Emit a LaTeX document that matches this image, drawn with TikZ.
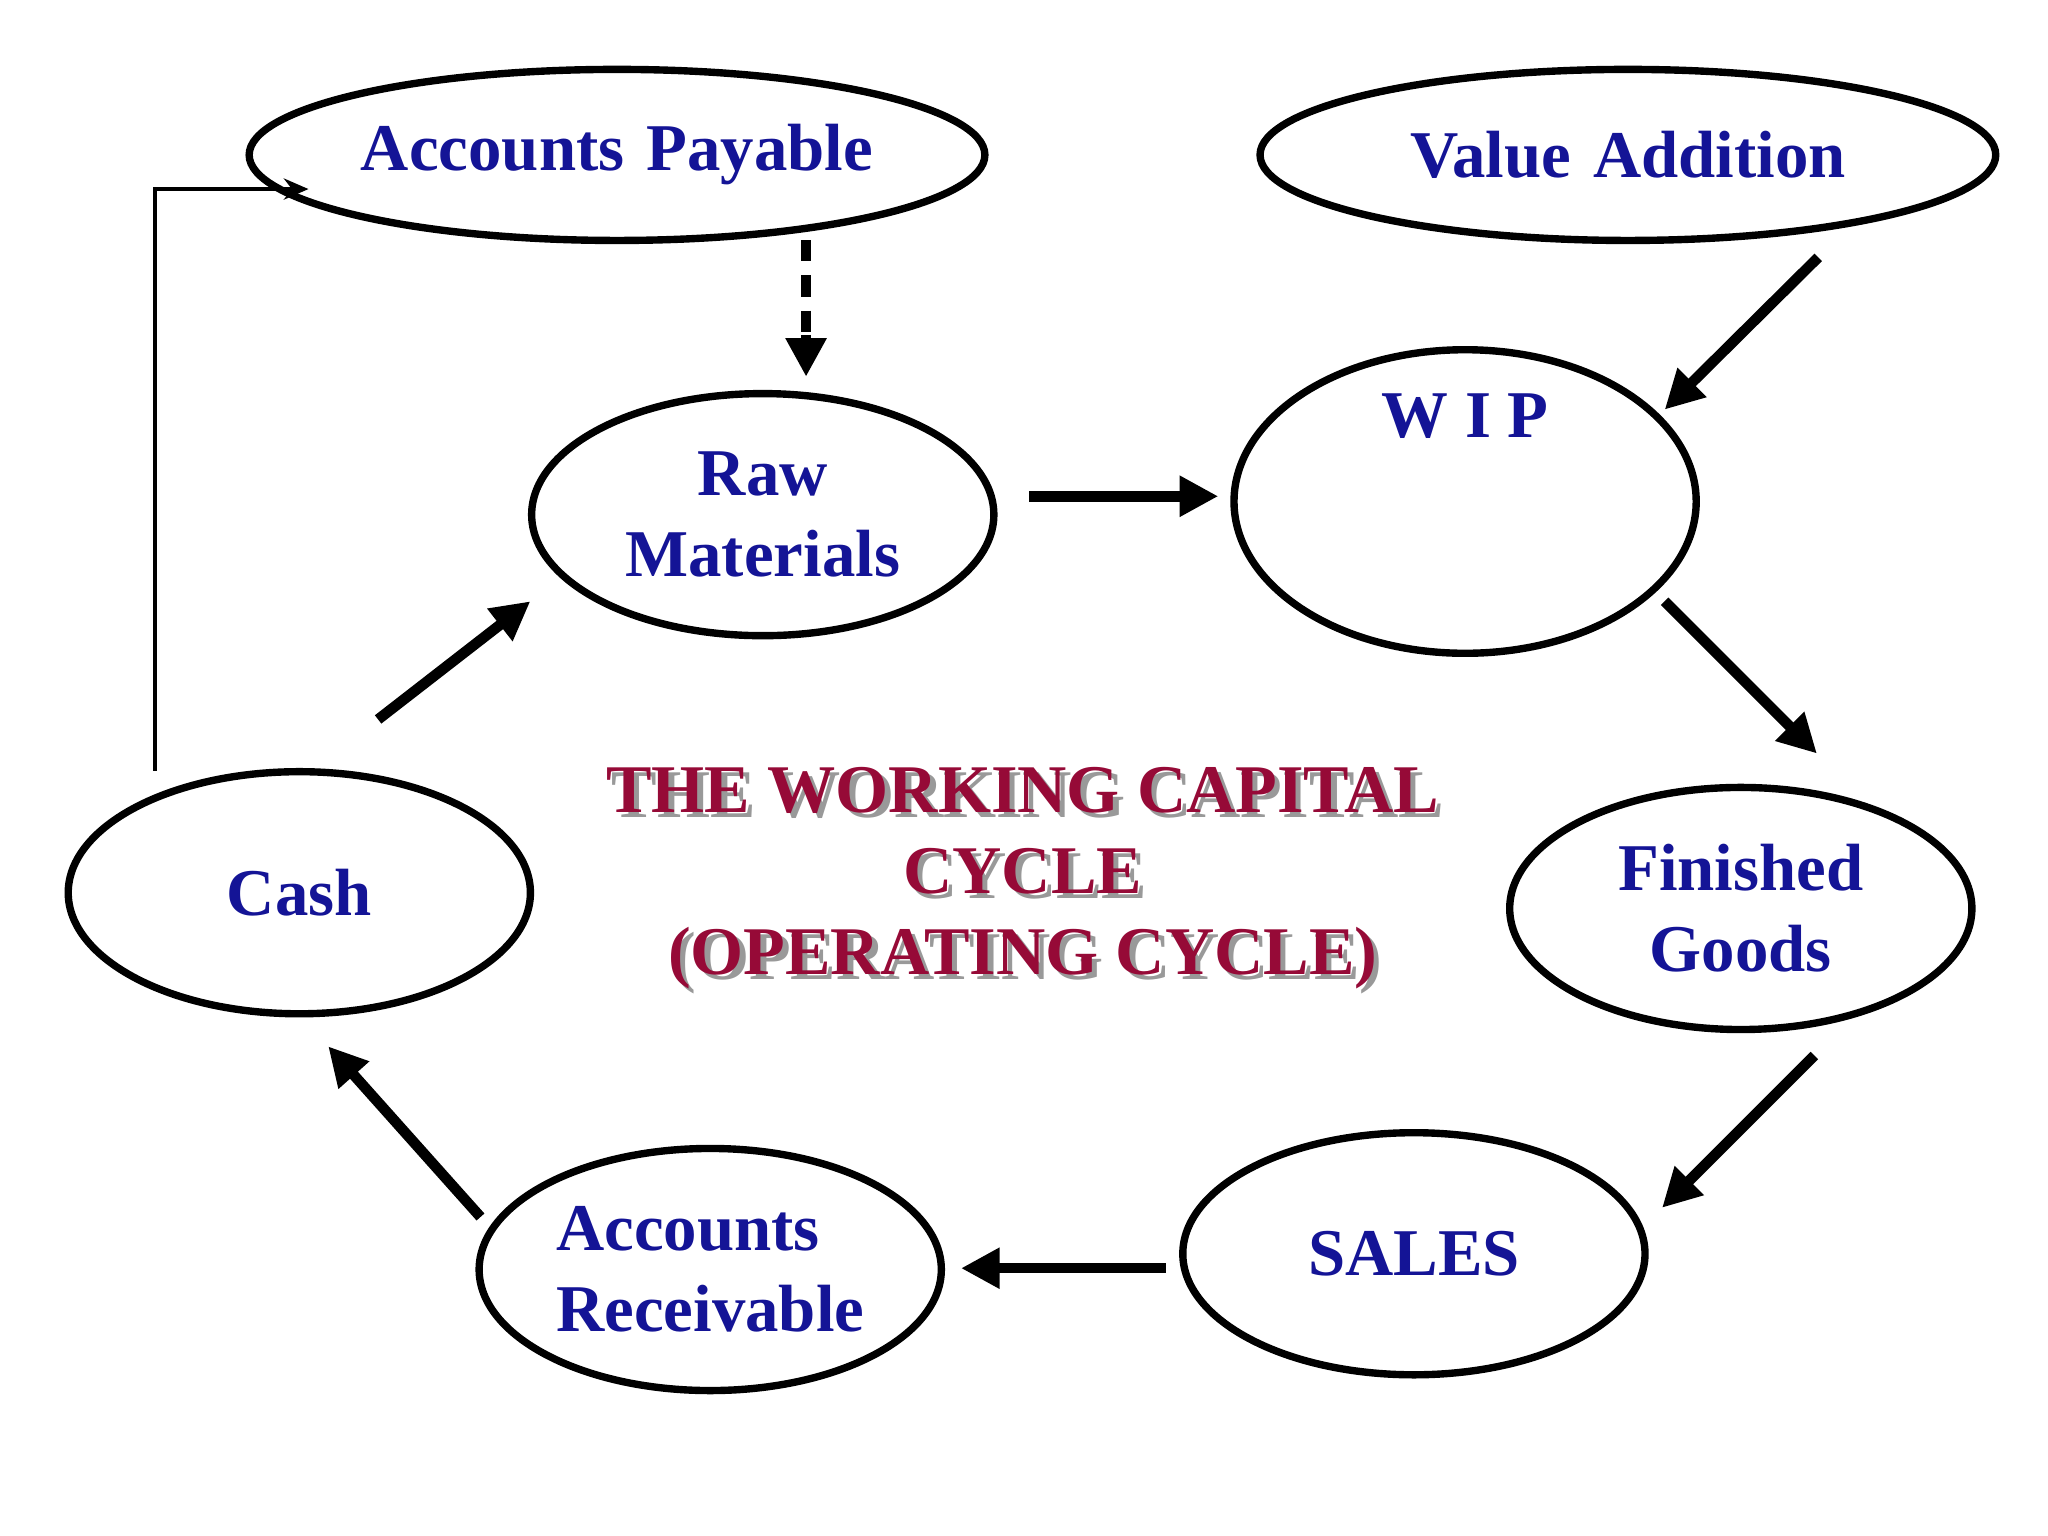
\documentclass[tikz,border=0pt]{standalone}
\usepackage{fontspec}
\setmainfont{Liberation Serif}
\usetikzlibrary{arrows.meta,shapes.geometric,calc}
\definecolor{nblue}{RGB}{20,20,150}
\definecolor{tred}{RGB}{150,10,55}
\begin{document}
\begin{tikzpicture}[x=0.01313cm,y=-0.01313cm,
  ell/.style={draw,line width=2.1pt,ellipse,inner sep=0pt,font=\bfseries\fontsize{19}{23}\selectfont,text=nblue,align=center},
  bigarr/.style={line width=3pt,-{Triangle[length=11pt,width=11pt]}},
  ttl/.style={font=\bfseries\fontsize{19.4}{23}\selectfont,align=center}]
\useasboundingbox (0,0) rectangle (1560,1170);
\node[ell,minimum width=6.5cm,minimum height=1.71cm,text width=5.2cm] (ap) at (470,118) {Accounts Payable};
\node[ell,minimum width=6.5cm,minimum height=1.71cm,text width=5.2cm] (va) at (1240,118) {Value Addition};
\node[ell,minimum width=4.62cm,minimum height=2.42cm] (rm) at (581,392) {Raw\\Materials};
\node[ell,minimum width=4.62cm,minimum height=2.42cm] (wip) at (1116,382) {W I P\\[0.9cm]};
\node[ell,minimum width=4.62cm,minimum height=2.42cm] (cash) at (228,680) {Cash};
\node[ell,minimum width=4.62cm,minimum height=2.42cm] (fg) at (1326,692) {Finished\\Goods};
\node[ell,minimum width=4.62cm,minimum height=2.42cm,align=left] (ar) at (541,967) {Accounts\\Receivable};
\node[ell,minimum width=4.62cm,minimum height=2.42cm] (sales) at (1077,955) {SALES};
\node[ttl,text=black!40] at (783,673) {THE WORKING CAPITAL\\CYCLE\\(OPERATING CYCLE)};
\node[ttl,text=tred] (title) at (779,669) {THE WORKING CAPITAL\\CYCLE\\(OPERATING CYCLE)};
\coordinate (a1) at (614,183); \coordinate (a2) at (614,287);
\coordinate (b1) at (1385,196); \coordinate (b2) at (1268,312);
\coordinate (c1) at (784,378); \coordinate (c2) at (928,378);
\coordinate (d1) at (1268,458); \coordinate (d2) at (1384,574);
\coordinate (e1) at (1382,804); \coordinate (e2) at (1266,920);
\coordinate (f1) at (888,966); \coordinate (f2) at (732,966);
\coordinate (g1) at (366,927); \coordinate (g2) at (250,797);
\coordinate (h1) at (288,548); \coordinate (h2) at (404,458);
\coordinate (k1) at (118,587); \coordinate (k2) at (118,144); \coordinate (k3) at (235,144);
\draw[line width=3pt,dash pattern=on 6pt off 4pt] (a1) -- ($(a2)+(0,-30)$);
\draw[bigarr] (b1) -- (b2);
\draw[bigarr] (c1) -- (c2);
\draw[bigarr] (d1) -- (d2);
\draw[bigarr] (e1) -- (e2);
\draw[bigarr] (f1) -- (f2);
\draw[bigarr] (g1) -- (g2);
\draw[bigarr] (h1) -- (h2);
\draw[line width=3pt,-{Triangle[length=11pt,width=11pt]}] ($(a2)+(0,-32)$) -- (a2);
\draw[line width=1.3pt,-{Stealth[length=7pt,width=6pt]}] (k1) -- (k2) -- (k3);
\end{tikzpicture}
\end{document}
